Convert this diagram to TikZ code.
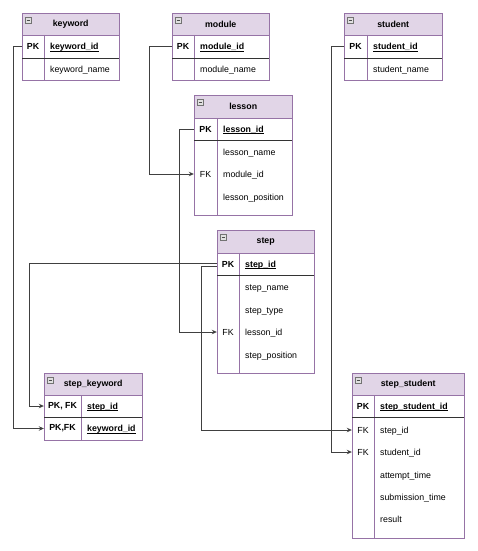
\documentclass[tikz,border=0pt]{standalone}
\usepackage{fontspec}
\setmainfont{Liberation Sans}
\usetikzlibrary{arrows.meta}

\definecolor{erhead}{HTML}{E1D5E7}
\definecolor{erline}{HTML}{9673A6}

% underlined key name, line just under the baseline
\newcommand{\keyname}[1]{\setbox0\hbox{#1}\rlap{\rule[-1.4pt]{\wd0}{0.5pt}}\box0}

\begin{document}
\begin{tikzpicture}[x=1pt,y=-1pt,>={Stealth[length=5pt,width=4.5pt]},
    font=\fontsize{8.8}{10}\selectfont,
    header/.style={draw=erline,fill=erhead,anchor=north west,inner sep=0pt,
                   font=\fontsize{8.8}{10}\selectfont\bfseries},
    table body/.style={draw=erline,fill=white},
    pk line/.style={draw=black!80,line width=0.8pt},
    key cell/.style={minimum height=20pt,inner sep=0pt},
    pk key/.style={key cell,font=\fontsize{8.8}{10}\selectfont\bfseries},
    field/.style={anchor=base west,inner sep=0pt,yshift=-3.2pt},
    pk field/.style={field,font=\fontsize{8.8}{10}\selectfont\bfseries},
    icon/.style={draw=black!55,fill=black!12,minimum size=6pt,inner sep=0pt,line width=0.4pt,
                 path picture={\draw[black!70,line width=0.7pt]
                   ([xshift=1.2pt]path picture bounding box.west) -- ([xshift=-1.2pt]path picture bounding box.east);}},
    link/.style={->,draw=black!75,line width=0.7pt}]

  \useasboundingbox (0,0) rectangle (477,551);

  % keyword
  \node[header,minimum width=97pt,minimum height=22pt] (keyword) at (22,13) {keyword};
  \node[icon] at (28.5,20) {};
  \draw[table body] (22,35) rectangle (119,80);
  \draw[erline] (44,35) -- (44,80);
  \draw[pk line] (22,58) -- (119,58);
  \node[pk key,minimum width=22pt] (keyword-pk) at (33,46.5) {PK};
  \node[pk field] at (50,46.5) {\keyname{keyword\_id}};
  \node[field] at (50,69) {keyword\_name};

  % module
  \node[header,minimum width=97pt,minimum height=22pt] (module) at (172,13) {module};
  \node[icon] at (178.5,20) {};
  \draw[table body] (172,35) rectangle (269,80);
  \draw[erline] (194,35) -- (194,80);
  \draw[pk line] (172,58) -- (269,58);
  \node[pk key,minimum width=22pt] (module-pk) at (183,46.5) {PK};
  \node[pk field] at (200,46.5) {\keyname{module\_id}};
  \node[field] at (200,69) {module\_name};

  % student
  \node[header,minimum width=98pt,minimum height=22pt] (student) at (344,13) {student};
  \node[icon] at (350.5,20) {};
  \draw[table body] (344,35) rectangle (442,80);
  \draw[erline] (367,35) -- (367,80);
  \draw[pk line] (344,58) -- (442,58);
  \node[pk key,minimum width=23pt] (student-pk) at (355.5,46.5) {PK};
  \node[pk field] at (373,46.5) {\keyname{student\_id}};
  \node[field] at (373,69) {student\_name};

  % lesson
  \node[header,minimum width=98pt,minimum height=23pt] (lesson) at (194,95) {lesson};
  \node[icon] at (200.5,102) {};
  \draw[table body] (194,118) rectangle (292,215);
  \draw[erline] (217,118) -- (217,215);
  \draw[pk line] (194,140) -- (292,140);
  \node[pk key,minimum width=23pt] (lesson-pk) at (205.5,129) {PK};
  \node[pk field] at (223,129) {\keyname{lesson\_id}};
  \node[field] at (223,152) {lesson\_name};
  \node[key cell,minimum width=23pt] (lesson-fk) at (205.5,174) {FK};
  \node[field] at (223,174) {module\_id};
  \node[field] at (223,197) {lesson\_position};

  % step
  \node[header,minimum width=97pt,minimum height=23pt] (step) at (217,230) {step};
  \node[icon] at (223.5,237) {};
  \draw[table body] (217,253) rectangle (314,373);
  \draw[erline] (239,253) -- (239,373);
  \draw[pk line] (217,275) -- (314,275);
  \node[pk key,minimum width=22pt] (step-pk) at (228,264) {PK};
  \node[pk field] at (245,264) {\keyname{step\_id}};
  \node[field] at (245,287) {step\_name};
  \node[field] at (245,310) {step\_type};
  \node[key cell,minimum width=22pt] (step-fk) at (228,332) {FK};
  \node[field] at (245,332) {lesson\_id};
  \node[field] at (245,355) {step\_position};

  % step_keyword
  \node[header,minimum width=98pt,minimum height=22pt] (stepkw) at (44,373) {step\_keyword};
  \node[icon] at (50.5,380) {};
  \draw[table body] (44,395) rectangle (142,440);
  \draw[erline] (81,395) -- (81,440);
  \draw[pk line] (44,417) -- (142,417);
  \node[pk key,minimum width=37pt] (stepkw-pk1) at (62.5,406) {PK, FK};
  \node[pk field] at (87,406) {\keyname{step\_id}};
  \node[pk key,minimum width=37pt] (stepkw-pk2) at (62.5,428.5) {PK,FK};
  \node[pk field] at (87,428.5) {\keyname{keyword\_id}};

  % step_student
  \node[header,minimum width=112pt,minimum height=22pt] (stepst) at (352,373) {step\_student};
  \node[icon] at (358.5,380) {};
  \draw[table body] (352,395) rectangle (464,538);
  \draw[erline] (374,395) -- (374,538);
  \draw[pk line] (352,417) -- (464,417);
  \node[pk key,minimum width=22pt] (stepst-pk) at (363,406) {PK};
  \node[pk field] at (380,406) {\keyname{step\_student\_id}};
  \node[key cell,minimum width=22pt] (stepst-fk1) at (363,430) {FK};
  \node[field] at (380,430) {step\_id};
  \node[key cell,minimum width=22pt] (stepst-fk2) at (363,452) {FK};
  \node[field] at (380,452) {student\_id};
  \node[field] at (380,475) {attempt\_time};
  \node[field] at (380,497) {submission\_time};
  \node[field] at (380,519) {result};

  % relations
  \draw[link] (keyword-pk.west) -- ++(-8,0) |- (stepkw-pk2.west);
  \draw[link] (module-pk.west) -- ++(-22,0) |- (lesson-fk.west);
  \draw[link] (lesson-pk.west) -- ++(-14,0) |- (step-fk.west);
  \draw[link] ([yshift=1pt]step-pk.west) -- ++(-187,0) |- (stepkw-pk1.west);
  \draw[link] ([yshift=-2pt]step-pk.west) -- ++(-15,0) |- (stepst-fk1.west);
  \draw[link] (student-pk.west) -- ++(-12,0) |- (stepst-fk2.west);
\end{tikzpicture}
\end{document}
